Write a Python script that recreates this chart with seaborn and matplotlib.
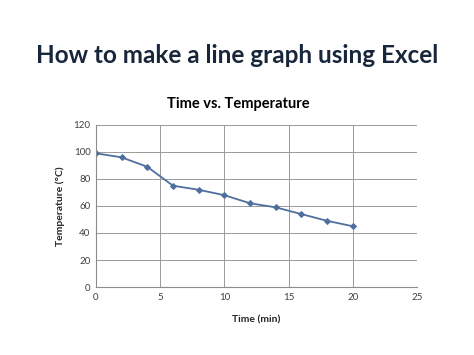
import numpy as np
import pandas as pd
import matplotlib
matplotlib.use("Agg")
import matplotlib.pyplot as plt
import seaborn as sns

# -------------------- DATOS --------------------
time_min = [0, 2, 4, 6, 8, 10, 12, 14, 16, 18, 20]
temperature = [99, 96, 89, 75, 72, 68, 62, 59, 54, 49, 45]
x_ticks = [0, 5, 10, 15, 20, 25]
y_ticks = [0, 20, 40, 60, 80, 100, 120]

df = pd.DataFrame({"Time (min)": time_min, "Temperature (°C)": temperature})

# -------------------- ESTILO --------------------
sns.set_style("white")
plt.rcParams["font.family"] = ["Lato", "DejaVu Sans"]

fig = plt.figure(figsize=(4.74, 3.55), dpi=100)
ax = fig.add_axes([0.2025, 0.1915, 0.6772, 0.4565])

sns.lineplot(data=df, x="Time (min)", y="Temperature (°C)", ax=ax,
             color="#4f6f9f", linewidth=1.3, marker="D", markersize=3,
             markeredgecolor="#4f6f9f")

ax.set_xlim(0, 25)
ax.set_ylim(0, 120)
ax.set_xticks(x_ticks)
ax.set_yticks(y_ticks)
ax.grid(True, color="#9a9a9a", linewidth=0.7)
ax.tick_params(labelsize=7, colors="#404040", length=0, pad=4)
for side in ["top", "right"]:
    ax.spines[side].set_visible(False)
for side in ["left", "bottom"]:
    ax.spines[side].set_color("#8c8c8c")
    ax.spines[side].set_linewidth(0.8)

ax.set_xlabel("Time (min)", fontsize=7.5, fontweight="bold", labelpad=10)
ax.set_ylabel("Temperature (°C)", fontsize=7.5, fontweight="bold", labelpad=6)

fig.text(0.5, 0.845, "How to make a line graph using Excel", ha="center",
         va="center", fontsize=17.5, fontweight="bold", color="#17263a")
fig.text(0.502, 0.707, "Time vs. Temperature", ha="center", va="center",
         fontsize=10.5, fontweight="bold", color="black")

plt.savefig("out.png", dpi=100)
plt.close()
